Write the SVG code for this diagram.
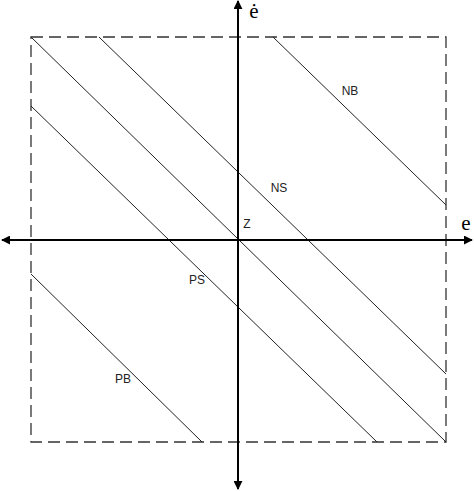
<svg xmlns="http://www.w3.org/2000/svg" width="474" height="491" viewBox="0 0 474 491">
<style>
.lbl{font-family:"Liberation Sans",Arial,sans-serif;font-size:12px;fill:#222;text-anchor:middle}
.ax{font-family:"Liberation Serif","Times New Roman",serif;font-size:21px;fill:#000;text-anchor:middle}
.band{stroke:#222;stroke-width:1;fill:none}
.axis{stroke:#000;stroke-width:2;fill:none}
</style>
<defs>
<marker id="arr" viewBox="0 0 10 10" refX="9" refY="5" markerWidth="9" markerHeight="9" markerUnits="userSpaceOnUse" orient="auto">
<path d="M0,0 L10,5 L0,10 Z" fill="#000"/>
</marker>
</defs>
<rect id="region" x="31" y="37" width="415" height="405" fill="none" stroke="#333" stroke-width="1.3" stroke-dasharray="12,6"/>
<g id="connectors">
<line class="band" x1="273" y1="37" x2="446" y2="205"/>
<line class="band" x1="99" y1="37" x2="446" y2="374"/>
<line class="band" x1="31" y1="37" x2="446" y2="442"/>
<line class="band" x1="31" y1="106" x2="377" y2="442"/>
<line class="band" x1="31" y1="274" x2="202" y2="442"/>
<line class="axis" x1="238" y1="240" x2="472" y2="240" marker-end="url(#arr)"/>
<line class="axis" x1="238" y1="240" x2="2" y2="240" marker-end="url(#arr)"/>
<line class="axis" x1="238" y1="240" x2="238" y2="1" marker-end="url(#arr)"/>
<line class="axis" x1="238" y1="240" x2="238" y2="489" marker-end="url(#arr)"/>
</g>
<g id="NB"><text class="lbl" x="350" y="95">NB</text></g>
<g id="NS"><text class="lbl" x="279" y="192">NS</text></g>
<g id="Z"><text class="lbl" x="247" y="228">Z</text></g>
<g id="PS"><text class="lbl" x="197" y="284">PS</text></g>
<g id="PB"><text class="lbl" x="123" y="383">PB</text></g>
<g id="e"><text class="ax" x="466" y="230">e</text></g>
<g id="edot"><text class="ax" x="254" y="18">ė</text></g>
</svg>
